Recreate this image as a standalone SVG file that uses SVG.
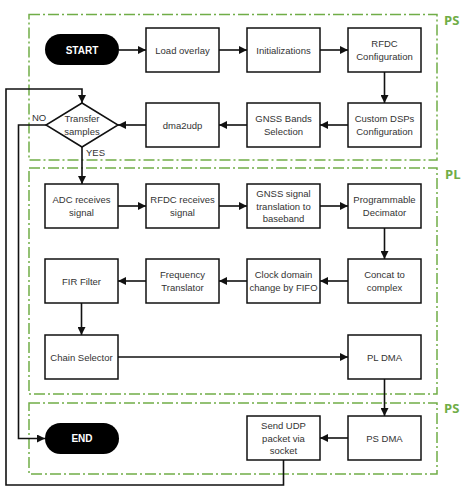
<svg xmlns="http://www.w3.org/2000/svg" width="474" height="492" viewBox="0 0 474 492">
<style>
.bg{fill:#fff}
.box{fill:#fff;stroke:#111;stroke-width:1.5}
.term{fill:#000}
.t{font-family:"Liberation Sans",Arial,sans-serif;font-size:9.5px;fill:#333;text-anchor:middle}
.tw{font-family:"Liberation Sans",Arial,sans-serif;font-size:10px;font-weight:bold;fill:#fff;text-anchor:middle}
.lbl{font-family:"Liberation Sans",Arial,sans-serif;font-size:9.5px;fill:#333}
.region{fill:none;stroke:#70AD47;stroke-width:1.5;stroke-dasharray:11 3 2 3}
.rl{font-family:"Open Sans","Liberation Sans",sans-serif;font-size:13px;font-weight:bold;fill:#70AD47}
.c{fill:none;stroke:#111;stroke-width:1.6}
</style>
<defs>
<marker id="ah" viewBox="0 0 10 10" refX="10" refY="5" markerWidth="8" markerHeight="8" markerUnits="userSpaceOnUse" orient="auto">
<path d="M0,0 L10,5 L0,10 z" fill="#111"/>
</marker>
</defs>
<rect class="bg" x="0" y="0" width="474" height="492"/>
<g id="regions">
<rect class="region" x="29" y="14.5" width="408" height="145.5"/>
<text class="rl" x="444" y="25">PS</text>
<rect class="region" x="29" y="168" width="408" height="226"/>
<text class="rl" x="445" y="179">PL</text>
<rect class="region" x="29" y="403" width="408" height="71"/>
<text class="rl" x="444" y="413">PS</text>
</g>
<g id="connectors">
<line class="c" x1="119" y1="50" x2="146" y2="50" marker-end="url(#ah)"/>
<line class="c" x1="219" y1="50" x2="247" y2="50" marker-end="url(#ah)"/>
<line class="c" x1="320" y1="50" x2="348" y2="50" marker-end="url(#ah)"/>
<line class="c" x1="384.5" y1="72" x2="384.5" y2="103" marker-end="url(#ah)"/>
<line class="c" x1="348" y1="125" x2="320" y2="125" marker-end="url(#ah)"/>
<line class="c" x1="247" y1="125" x2="219" y2="125" marker-end="url(#ah)"/>
<line class="c" x1="146" y1="125" x2="118" y2="125" marker-end="url(#ah)"/>
<line class="c" x1="82" y1="147" x2="82" y2="184" marker-end="url(#ah)"/>
<line class="c" x1="118" y1="206" x2="146" y2="206" marker-end="url(#ah)"/>
<line class="c" x1="219" y1="206" x2="247" y2="206" marker-end="url(#ah)"/>
<line class="c" x1="320" y1="206" x2="348" y2="206" marker-end="url(#ah)"/>
<line class="c" x1="384.5" y1="228" x2="384.5" y2="259" marker-end="url(#ah)"/>
<line class="c" x1="348" y1="281" x2="320" y2="281" marker-end="url(#ah)"/>
<line class="c" x1="247" y1="281" x2="219" y2="281" marker-end="url(#ah)"/>
<line class="c" x1="146" y1="281" x2="118" y2="281" marker-end="url(#ah)"/>
<line class="c" x1="81.5" y1="303" x2="81.5" y2="335" marker-end="url(#ah)"/>
<line class="c" x1="118" y1="357" x2="348" y2="357" marker-end="url(#ah)"/>
<line class="c" x1="384.5" y1="379" x2="384.5" y2="416" marker-end="url(#ah)"/>
<line class="c" x1="348" y1="438" x2="320" y2="438" marker-end="url(#ah)"/>
<polyline class="c" points="283.5,460 283.5,485 6,485 6,89 82,89 82,103" marker-end="url(#ah)"/>
<polyline class="c" points="46,125 18.5,125 18.5,438.5 45,438.5" marker-end="url(#ah)"/>
<text class="lbl" x="32" y="121">NO</text>
<text class="lbl" x="86" y="156">YES</text>
</g>
<g id="start"><rect class="term" x="45" y="34" width="74" height="31" rx="15.5"/><text class="tw" x="82" y="53.5">START</text></g>
<g id="load-overlay"><rect class="box" x="146" y="28" width="73" height="44"/><text class="t" x="182.5" y="53.5">Load overlay</text></g>
<g id="initializations"><rect class="box" x="247" y="28" width="73" height="44"/><text class="t" x="283.5" y="53.5">Initializations</text></g>
<g id="rfdc-config"><rect class="box" x="348" y="28" width="73" height="44"/><text class="t" x="384.5" y="47">RFDC</text><text class="t" x="384.5" y="59.5">Configuration</text></g>
<g id="custom-dsps"><rect class="box" x="348" y="103" width="73" height="44"/><text class="t" x="384.5" y="122">Custom DSPs</text><text class="t" x="384.5" y="134.5">Configuration</text></g>
<g id="gnss-bands"><rect class="box" x="247" y="103" width="73" height="44"/><text class="t" x="283.5" y="122">GNSS Bands</text><text class="t" x="283.5" y="134.5">Selection</text></g>
<g id="dma2udp"><rect class="box" x="146" y="103" width="73" height="44"/><text class="t" x="182.5" y="128.5">dma2udp</text></g>
<g id="transfer-samples"><polygon class="box" points="82,103 118,125 82,147 46,125"/><text class="t" x="82" y="122">Transfer</text><text class="t" x="82" y="134.5">samples</text></g>
<g id="adc"><rect class="box" x="45" y="184" width="73" height="44"/><text class="t" x="81.5" y="203">ADC receives</text><text class="t" x="81.5" y="215.5">signal</text></g>
<g id="rfdc-receives"><rect class="box" x="146" y="184" width="73" height="44"/><text class="t" x="182.5" y="203">RFDC receives</text><text class="t" x="182.5" y="215.5">signal</text></g>
<g id="gnss-translation"><rect class="box" x="247" y="184" width="73" height="44"/><text class="t" x="283.5" y="197">GNSS signal</text><text class="t" x="283.5" y="209.5">translation to</text><text class="t" x="283.5" y="222">baseband</text></g>
<g id="prog-decimator"><rect class="box" x="348" y="184" width="73" height="44"/><text class="t" x="384.5" y="203">Programmable</text><text class="t" x="384.5" y="215.5">Decimator</text></g>
<g id="concat"><rect class="box" x="348" y="259" width="73" height="44"/><text class="t" x="384.5" y="278">Concat to</text><text class="t" x="384.5" y="290.5">complex</text></g>
<g id="clock-domain"><rect class="box" x="247" y="259" width="73" height="44"/><text class="t" x="283.5" y="278">Clock domain</text><text class="t" x="283.5" y="290.5">change by FIFO</text></g>
<g id="freq-translator"><rect class="box" x="146" y="259" width="73" height="44"/><text class="t" x="182.5" y="278">Frequency</text><text class="t" x="182.5" y="290.5">Translator</text></g>
<g id="fir-filter"><rect class="box" x="45" y="259" width="73" height="44"/><text class="t" x="81.5" y="284.5">FIR Filter</text></g>
<g id="chain-selector"><rect class="box" x="45" y="335" width="73" height="44"/><text class="t" x="81.5" y="360.5">Chain Selector</text></g>
<g id="pl-dma"><rect class="box" x="348" y="335" width="73" height="44"/><text class="t" x="384.5" y="360.5">PL DMA</text></g>
<g id="ps-dma"><rect class="box" x="348" y="416" width="73" height="44"/><text class="t" x="384.5" y="441.5">PS DMA</text></g>
<g id="send-udp"><rect class="box" x="247" y="416" width="73" height="44"/><text class="t" x="283.5" y="429">Send UDP</text><text class="t" x="283.5" y="441.5">packet via</text><text class="t" x="283.5" y="454">socket</text></g>
<g id="end"><rect class="term" x="45" y="423" width="74" height="31" rx="15.5"/><text class="tw" x="82" y="442">END</text></g>
</svg>
